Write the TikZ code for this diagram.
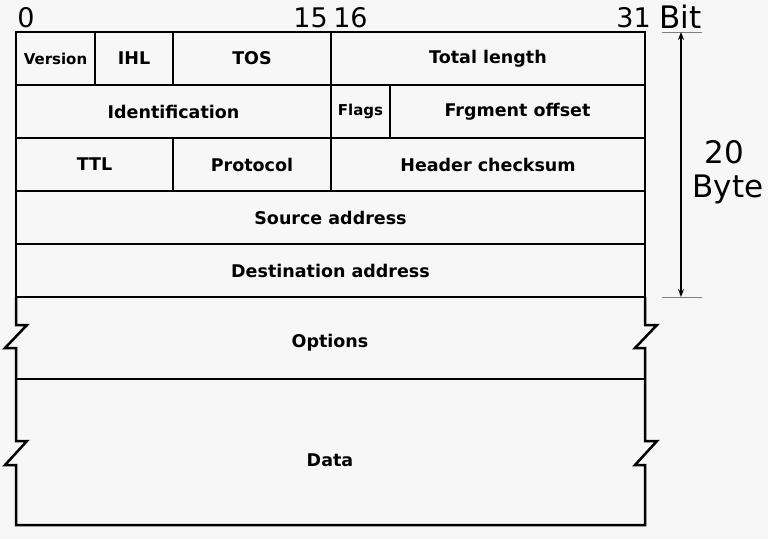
\documentclass[tikz,border=0pt]{standalone}
\usepackage{fontspec}
\setmainfont{DejaVu Sans}
\usetikzlibrary{positioning,arrows.meta}

\begin{document}
\begin{tikzpicture}[x=1pt,y=-1pt,>={Stealth[length=8pt,width=6pt]},line width=2.5pt,
    field/.style={draw,rectangle,inner sep=0pt,outer sep=0pt,minimum height=53pt,font=\bfseries\fontsize{17.5}{20}\selectfont},
    small field/.style={field,font=\bfseries\fontsize{15}{18}\selectfont},
    free field/.style={inner sep=0pt,font=\bfseries\fontsize{17.5}{20}\selectfont},
    bit label/.style={inner sep=0pt,font=\fontsize{27}{30}\selectfont},
    size label/.style={inner sep=0pt,font=\fontsize{31}{34}\selectfont}]
    \fill[white!97!black] (0,0) rectangle (768,539);
    \useasboundingbox (0,0) rectangle (768,539);

    % header, row by row
    \node[small field,minimum width=79pt,anchor=north west] (version) at (16,32) {Version};
    \node[field,minimum width=78pt] (ihl) [right=0pt of version] {IHL};
    \node[field,minimum width=158pt] (tos) [right=0pt of ihl] {TOS};
    \node[field,minimum width=314pt] (len) [right=0pt of tos] {Total length};

    \node[field,minimum width=315pt,anchor=north west] (ident) at (version.south west) {Identification};
    \node[small field,minimum width=59pt] (flags) [right=0pt of ident] {Flags};
    \node[field,minimum width=255pt] (offset) [right=0pt of flags] {Frgment offset};

    \node[field,minimum width=157pt,anchor=north west] (ttl) at (ident.south west) {TTL};
    \node[field,minimum width=158pt] (proto) [right=0pt of ttl] {Protocol};
    \node[field,minimum width=314pt] (check) [right=0pt of proto] {Header checksum};

    \node[field,minimum width=629pt,anchor=north west] (src) at (ttl.south west) {Source address};
    \node[field,minimum width=629pt,anchor=north west] (dst) at (src.south west) {Destination address};

    % options and data, open at the sides
    \node[free field] (options) at (330,343) {Options};
    \node[free field] (data) at (330,460) {Data};
    \draw (dst.south west) -- (16,325) -- (27,325) -- (5,348) -- (16,348)
        -- (16,441) -- (27,441) -- (5,465) -- (16,465) -- (16,525)
        -- (645,525) -- (645,465) -- (635,465) -- (657,441) -- (645,441)
        -- (645,348) -- (635,348) -- (657,325) -- (645,325) -- (dst.south east);
    \draw (16,379) -- (645,379);

    % bit numbers
    \node[bit label,anchor=base west] (b0) at (16,27) {0};
    \node[bit label,anchor=base east] (b15) at (329,27) {15};
    \node[bit label,anchor=base west] (b16) at (332,27) {16};
    \node[bit label,anchor=base east] (b31) at (652,27) {31};
    \node[size label,anchor=base west] (bit) at (658,28) {Bit};

    % header size
    \coordinate (top) at (681,32);
    \coordinate (bot) at (681,297);
    \draw[gray,line width=0.8pt] (662,32) -- (702,32);
    \draw[gray,line width=0.8pt] (662,297) -- (702,297);
    \draw[<->,line width=1.3pt] (top) -- (bot);
    \node[size label,anchor=base] (n20) at (724,163) {20};
    \node[size label,anchor=base] (byte) at (728,197) {Byte};
\end{tikzpicture}
\end{document}
